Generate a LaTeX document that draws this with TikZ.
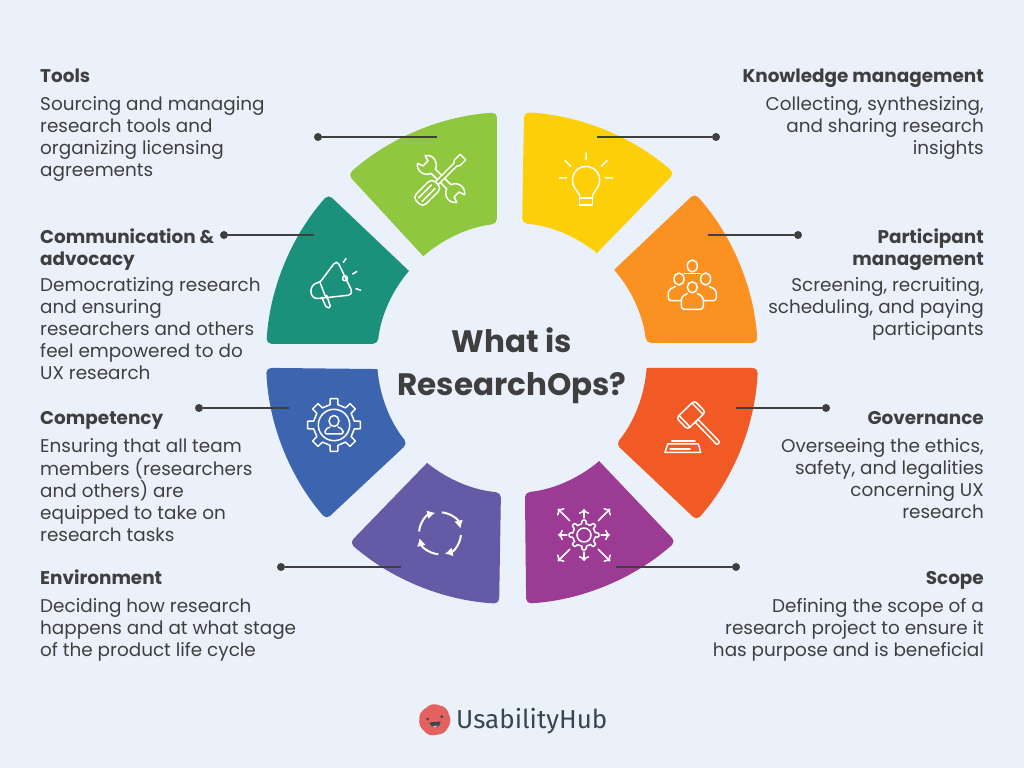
\documentclass[tikz,border=0pt]{standalone}
\usepackage{fontspec}
\setmainfont{Poppins}
\newfontfamily\logofont{Fira Sans}
\usetikzlibrary{positioning,arrows.meta}
\definecolor{pagebg}{HTML}{EAF1FA}
\definecolor{inktext}{HTML}{3F3F3F}
\definecolor{toolgreen}{HTML}{8FC73E}
\definecolor{voiceteal}{HTML}{1B917B}
\definecolor{ideayellow}{HTML}{FDCF08}
\definecolor{peopleorange}{HTML}{FA9120}
\definecolor{lawred}{HTML}{F25A25}
\definecolor{scopepurple}{HTML}{9B3B93}
\definecolor{envindigo}{HTML}{645AA5}
\definecolor{skillblue}{HTML}{3D65AF}
\definecolor{logored}{HTML}{E2625F}
\definecolor{logoink}{HTML}{37474F}
\tikzset{
  headleft/.style={inner sep=0pt,anchor=west,align=left,text=inktext,text height=13pt,text depth=4pt,font=\fontsize{18.4}{22}\selectfont\bfseries},
  headright/.style={headleft,anchor=east,align=right},
  bodyleft/.style={inner sep=0pt,align=left,text=inktext,font=\fontsize{18.4}{22}\selectfont,execute at begin node=\strut},
  bodyright/.style={bodyleft,align=right},
  dotmark/.style={circle,fill=inktext,inner sep=0pt,minimum size=8pt},
  leader/.style={draw=inktext,line width=1.5pt},
  iconline/.style={draw=white,line width=1.5pt,line cap=round,line join=round},
}
\begin{document}
\begin{tikzpicture}[x=1pt,y=1pt]
	\fill[pagebg] (0,0) rectangle (1024,768);
	\useasboundingbox (0,0) rectangle (1024,768);
	% ring
	\begin{scope}[shift={(512,410)}]
	\foreach \col/\a/\b/\c/\d in {toolgreen/131.8/93.5/96.4/131.1,voiceteal/138.3/176.7/174/139.8,
		ideayellow/48.7/87.2/85.7/51,peopleorange/42/3.5/6.4/40.8,lawred/-2.3/-41.3/-39.6/-4.2,
		scopepurple/-48.3/-86.7/-84.5/-49.8,envindigo/228.7/267/265.3/231,skillblue/182.3/221/219.3/184.7}
		\fill[\col,rounded corners=5pt] (\d:135) -- (\a:246) arc[start angle=\a,end angle=\b,radius=246] -- (\c:135) [sharp corners] arc[start angle=\c,end angle=\d,radius=135] -- cycle;
	\end{scope}
	\node[text=inktext,align=center,font=\fontsize{31}{43}\selectfont\bfseries] (title) at (512,402) {What is\\ResearchOps?};
	% wrench and screwdriver
	\begin{scope}[shift={(441,589)},rotate=-45]
		\draw[iconline] (-11,3) -- (11,3) arc[start angle=162,end angle=35,radius=9.5] -- (22,3.5) -- (22,-3.5) -- (27.8,-5.45) arc[start angle=-35,end angle=-162,radius=9.5] -- (-11,-3) arc[start angle=-18,end angle=-145,radius=9.5] -- (-22,-3.5) -- (-22,3.5) -- (-27.8,5.45) arc[start angle=145,end angle=18,radius=9.5] -- cycle;
	\end{scope}
	\begin{scope}[shift={(441,589)},rotate=45]
		\draw[iconline,fill=toolgreen] (-6,-2) -- (20,-2) -- (23,-4) -- (31,-4) -- (31,4) -- (23,4) -- (20,2) -- (-6,2) -- cycle;
		\draw[iconline,fill=toolgreen,rounded corners=5pt] (-33,-7) rectangle (-6,7);
		\draw[iconline] (-29,2.5) -- (-11,2.5) (-29,-2.5) -- (-11,-2.5);
	\end{scope}
	% megaphone
	\begin{scope}[shift={(335,484.7)}]
		\draw[iconline,rounded corners=2pt] (0,21) -- (-15,1) .. controls (-27,-1) and (-26,-16) .. (-15,-15) -- (15.7,-11.7) -- (17,-8) -- (3,21) -- cycle;
		\draw[iconline] (-15,1) -- (-9.3,-14);
		\draw[iconline,rounded corners=2pt] (-13.3,-14) -- (-8.3,-25) -- (-4.3,-24) -- (-8.3,-12);
		\draw[iconline] (10,5) circle (2.5);
		\draw[iconline] (8.3,21) -- (11,24.7) (17.7,9.3) -- (21.7,11.7) (21,-5.3) -- (25.7,-7);
	\end{scope}
	% light bulb
	\begin{scope}[shift={(586,588)}]
		\draw[iconline] (-6.5,-18) -- (-6.5,-15) -- (-11.5,-7.5) arc[start angle=213,end angle=-33,radius=13.7] -- (6.5,-15) -- (6.5,-18);
		\draw[iconline] (-6.5,-18) rectangle (6.5,-25);
		\draw[iconline] (0,27) -- (0,20.7) (-26.7,2) -- (-19.3,2) (26.7,2) -- (19.3,2) (-21,19.3) -- (-15.3,13.7) (21,19.3) -- (15.3,13.7);
	\end{scope}
	% people
	\begin{scope}[shift={(692.3,483)}]
		\draw[iconline] (0,19) ellipse (5 and 6);
		\draw[iconline] (-13.3,6) ellipse (5 and 6) (13.3,6) ellipse (5 and 6) (0,-2.3) ellipse (5 and 5.5);
		\draw[iconline] (-8,11.7) -- (8,11.7);
		\draw[iconline,rounded corners=3pt] (-11,-15.7) -- (-24,-15.7) -- (-24,-5) -- (-17,-1.5);
		\draw[iconline,rounded corners=3pt] (11,-15.7) -- (24,-15.7) -- (24,-5) -- (17,-1.5);
		\draw[iconline,rounded corners=3pt] (-5,-8.5) -- (-11,-12) -- (-11,-24.3) -- (11,-24.3) -- (11,-12) -- (5,-8.5);
	\end{scope}
	% cog with person
	\begin{scope}[shift={(334,343)}]
		\foreach \a in {0,45,...,315}
			\draw[iconline] (\a-11:20.7) -- (\a-8:26.7) -- (\a+8:26.7) -- (\a+11:20.7) -- (\a+34:20.7);
		\draw[iconline] (0,0) circle (15.7);
		\draw[iconline] (0,4) ellipse (5 and 5.5);
		\draw[iconline,rounded corners=2pt] (-4,-2) -- (-9,-4.5) -- (-9,-9) -- (9,-9) -- (9,-4.5) -- (4,-2);
	\end{scope}
	% gavel
	\begin{scope}[shift={(691,353)},rotate=-46]
		\draw[iconline,rounded corners=1pt] (8,-2) rectangle (39.5,2);
		\draw[iconline,rounded corners=3pt] (-8,-12.5) rectangle (8,12.5);
		\draw[iconline] (-8,9) -- (8,9) (-8,-9) -- (8,-9);
	\end{scope}
	\draw[iconline] (664.9,315.6) -- (700.7,315.6) -- (698.4,324) -- (667.7,324) -- cycle;
	\draw[iconline] (671.7,326.9) -- (695,326.9) (670,318.9) -- (690,318.9);
	% cycle
	\begin{scope}[shift={(440,234.7)}]
		\foreach \a in {175,85,-5,-95}
			\draw[iconline,line cap=butt,line width=2pt,-{Latex[length=8pt,width=9pt]}] (\a:21) arc[start angle=\a,end angle=\a-72,radius=21];
	\end{scope}
	% cog with arrows
	\begin{scope}[shift={(584,233)}]
		\foreach \a in {0,45,...,315}
			\draw[iconline,rounded corners=1pt] (\a-10:11.5) -- (\a-8:15) -- (\a+8:15) -- (\a+10:11.5) -- (\a+35:11.5);
		\draw[iconline] (0,0) circle (7);
		\foreach \a in {0,90,180,270}
			\draw[iconline,->] (\a:17) -- (\a:26);
		\foreach \a in {45,135,225,315}
			\draw[iconline,->] (\a:20) -- (\a:37);
	\end{scope}
	% leader lines
	\node[dotmark] (toolsdot) at (318,631) {};
	\coordinate (toolsend) at (437,631);
	\node[dotmark] (voicedot) at (224,533) {};
	\coordinate (voiceend) at (314,533);
	\node[dotmark] (skilldot) at (199,360) {};
	\coordinate (skillend) at (289,360);
	\node[dotmark] (envdot) at (281,201) {};
	\coordinate (envend) at (401,201);
	\node[dotmark] (ideadot) at (716,631) {};
	\coordinate (ideaend) at (597,631);
	\node[dotmark] (peopledot) at (798,533) {};
	\coordinate (peopleend) at (708,533);
	\node[dotmark] (lawdot) at (826,360) {};
	\coordinate (lawend) at (736,360);
	\node[dotmark] (scopedot) at (736,201) {};
	\coordinate (scopeend) at (616,201);
	\foreach \n in {tools,voice,skill,env,idea,people,law,scope}
		\draw[leader] (\n dot) -- (\n end);
	% left labels
	\node[headleft] (toolshead) at (40,690) {Tools};
	\node[bodyleft,below=9.6pt of toolshead.south west,anchor=north west] (toolsbody) {Sourcing and managing\\research tools and\\organizing licensing\\agreements};
	\node[headleft] (voicehead) at (40,507) {Communication \&\\advocacy};
	\node[bodyleft,below=7.6pt of voicehead.south west,anchor=north west] (voicebody) {Democratizing research\\and ensuring\\researchers and others\\feel empowered to do\\UX research};
	\node[headleft] (skillhead) at (40,348) {Competency};
	\node[bodyleft,below=9.6pt of skillhead.south west,anchor=north west] (skillbody) {Ensuring that all team\\members (researchers\\and others) are\\equipped to take on\\research tasks};
	\node[headleft] (envhead) at (40,188) {Environment};
	\node[bodyleft,below=9.6pt of envhead.south west,anchor=north west] (envbody) {Deciding how research\\happens and at what stage\\of the product life cycle};
	% right labels
	\node[headright] (ideahead) at (984,690) {Knowledge management};
	\node[bodyright,below=9.6pt of ideahead.south east,anchor=north east] (ideabody) {Collecting, synthesizing,\\and sharing research\\insights};
	\node[headright] (peoplehead) at (984,507) {Participant\\management};
	\node[bodyright,below=7.6pt of peoplehead.south east,anchor=north east] (peoplebody) {Screening, recruiting,\\scheduling, and paying\\participants~};
	\node[headright] (lawhead) at (984,348) {Governance};
	\node[bodyright,below=9.6pt of lawhead.south east,anchor=north east] (lawbody) {Overseeing the ethics,\\safety, and legalities\\concerning UX\\research};
	\node[headright] (scopehead) at (984,188) {Scope};
	\node[bodyright,below=9.6pt of scopehead.south east,anchor=north east] (scopebody) {Defining the scope of a\\research project to ensure it\\has purpose and is beneficial};
	% logo
	\begin{scope}[shift={(435,48)}]
		\fill[logored,rounded corners=4pt] (100:17) -- (48:17) -- (-5:16.5) -- (-55:16.5) -- (-110:17) -- (-160:17) -- (155:17) -- cycle;
		\fill[logoink] (-7.3,1) circle (1.5) (6.7,3.3) circle (1.5);
		\fill[logoink] (-5.5,-2.5) .. controls (-3,-10) and (5,-9) .. (5.5,-1.5) -- cycle;
		\fill[logored!60!white] (-2.5,-6) .. controls (-1,-8.5) and (2,-8) .. (3,-5.5) -- cycle;
	\end{scope}
	\node[anchor=west,inner sep=0pt,text=logoink,font=\logofont\fontsize{26}{30}\selectfont] (logotext) at (456,46.5) {UsabilityHub};
\end{tikzpicture}
\end{document}
